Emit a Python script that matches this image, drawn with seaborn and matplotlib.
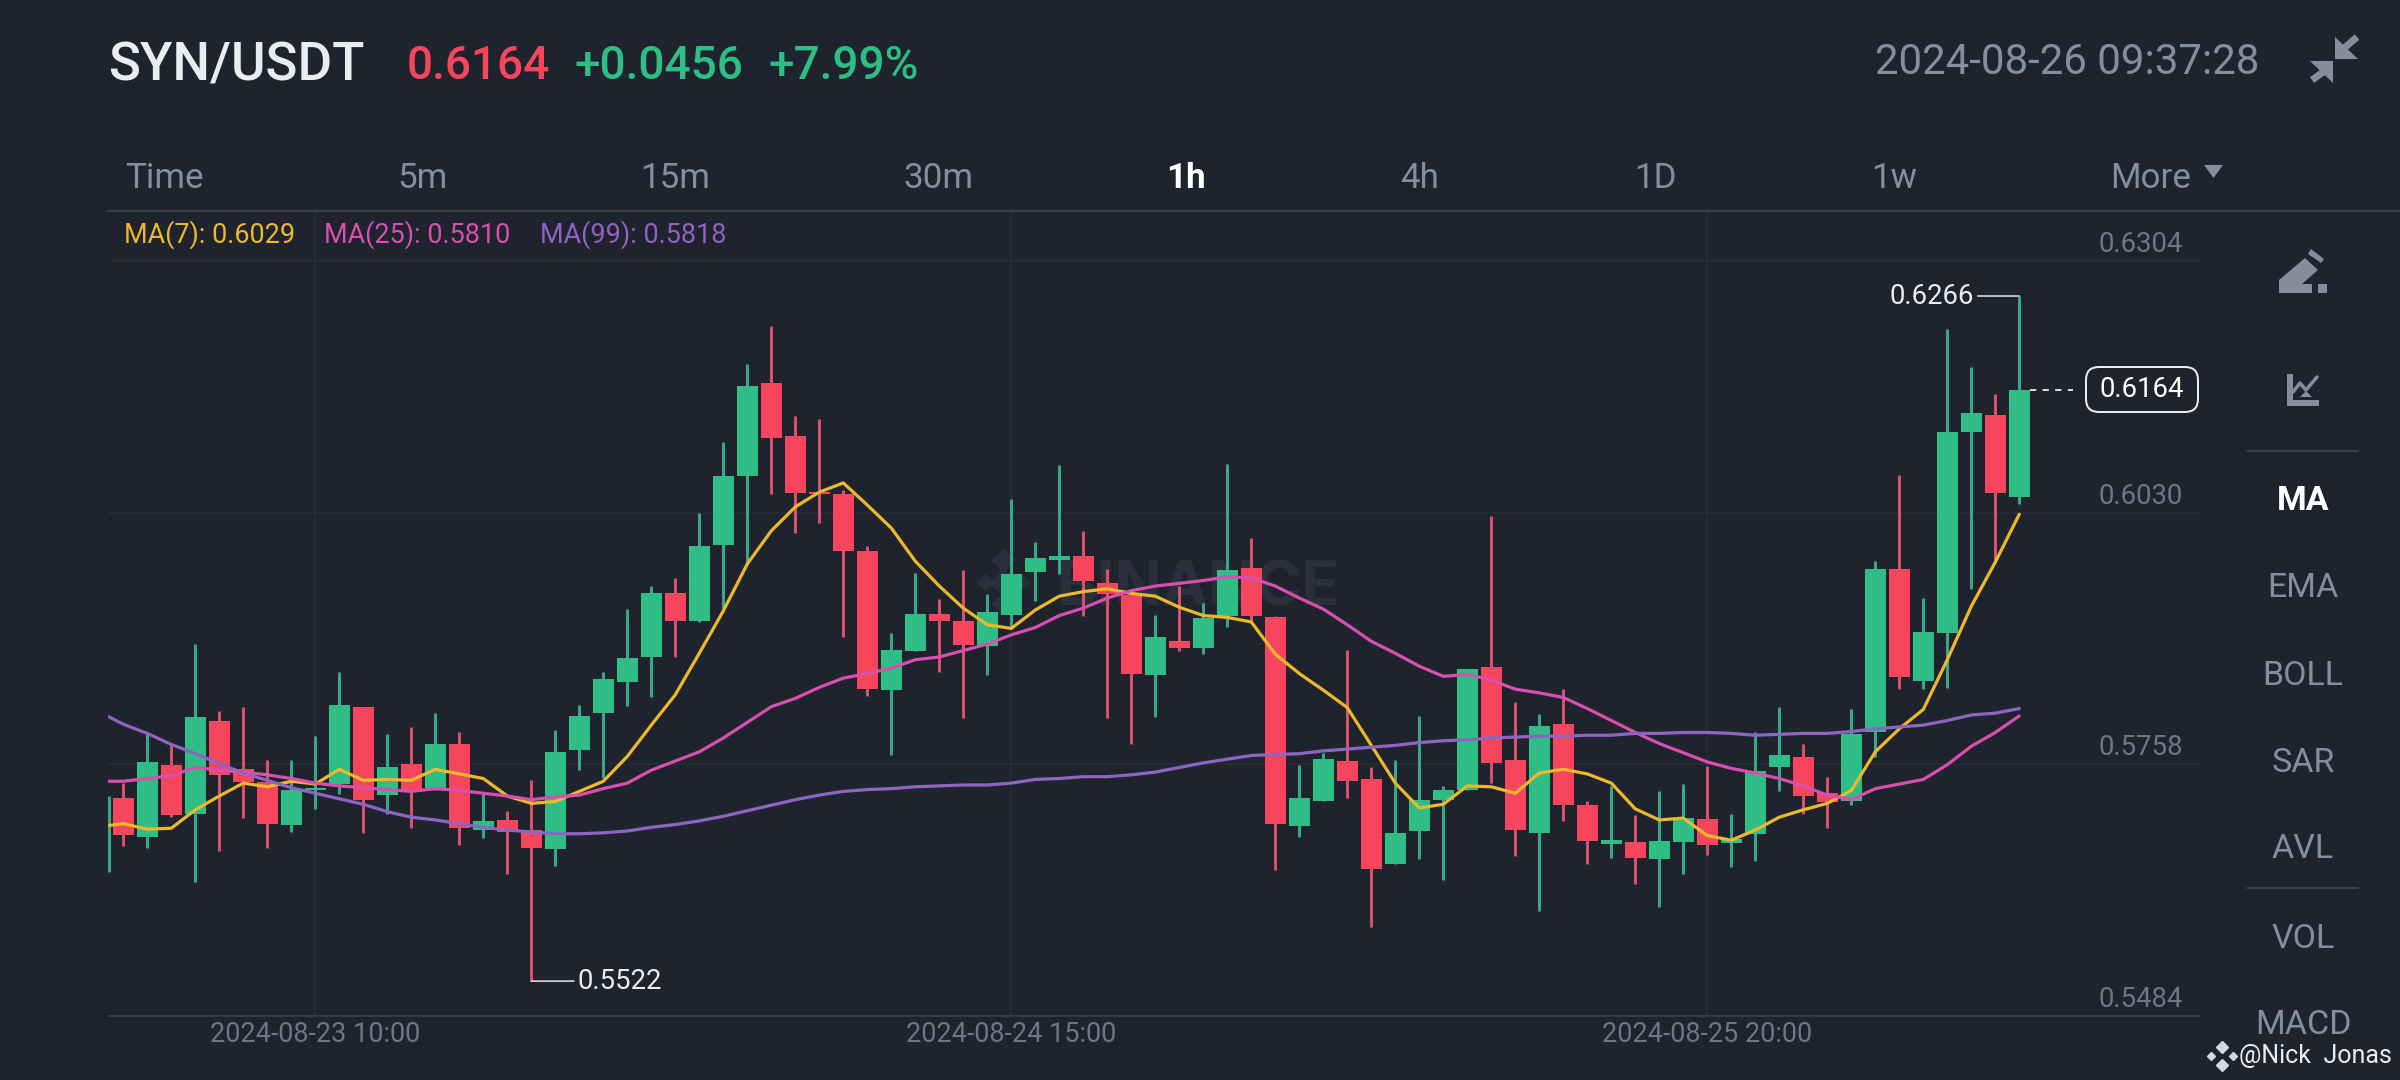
import numpy as np
import pandas as pd
import matplotlib.pyplot as plt
import seaborn as sns
from matplotlib.patches import FancyBboxPatch, Polygon, Rectangle
from matplotlib.transforms import ScaledTranslation

# hourly candles, index 8 is 2024-08-23 10:00
open_px = [0.5721, 0.5678, 0.5757, 0.5703, 0.5805, 0.5752, 0.5738, 0.5692, 0.5729, 0.5736,
           0.5820, 0.5724, 0.5758, 0.5732, 0.5779, 0.5686, 0.5697, 0.5686, 0.5665, 0.5773,
           0.5813, 0.5847, 0.5874, 0.5943, 0.5913, 0.5996, 0.6070, 0.6171, 0.6114, 0.6053,
           0.6051, 0.5989, 0.5838, 0.5880, 0.5921, 0.5913, 0.5886, 0.5920, 0.5966, 0.5979,
           0.5984, 0.5954, 0.5941, 0.5854, 0.5891, 0.5884, 0.5919, 0.5971, 0.5917, 0.5690,
           0.5718, 0.5761, 0.5741, 0.5649, 0.5685, 0.5719, 0.5730, 0.5863, 0.5762, 0.5683,
           0.5801, 0.5713, 0.5671, 0.5673, 0.5655, 0.5673, 0.5698, 0.5672, 0.5682, 0.5755,
           0.5765, 0.5726, 0.5718, 0.5792, 0.5970, 0.5848, 0.5900, 0.6118, 0.6137, 0.6048]
close_px = [0.5681, 0.5760, 0.5702, 0.5809, 0.5746, 0.5738, 0.5693, 0.5729, 0.5732, 0.5822,
            0.5719, 0.5755, 0.5730, 0.5779, 0.5688, 0.5696, 0.5684, 0.5667, 0.5771, 0.5810,
            0.5850, 0.5873, 0.5943, 0.5913, 0.5995, 0.6070, 0.6168, 0.6112, 0.6052, 0.6051,
            0.5989, 0.5839, 0.5882, 0.5921, 0.5913, 0.5887, 0.5923, 0.5964, 0.5981, 0.5984,
            0.5957, 0.5942, 0.5856, 0.5896, 0.5884, 0.5916, 0.5968, 0.5919, 0.5693, 0.5721,
            0.5763, 0.5739, 0.5644, 0.5683, 0.5719, 0.5729, 0.5861, 0.5759, 0.5686, 0.5799,
            0.5713, 0.5674, 0.5675, 0.5656, 0.5674, 0.5699, 0.5670, 0.5676, 0.5750, 0.5768,
            0.5723, 0.5716, 0.5790, 0.5970, 0.5852, 0.5901, 0.6118, 0.6139, 0.6052, 0.6164]
high_px = [0.5737, 0.5791, 0.5781, 0.5888, 0.5815, 0.5820, 0.5762, 0.5762, 0.5788, 0.5858,
           0.5820, 0.5790, 0.5798, 0.5813, 0.5792, 0.5727, 0.5707, 0.5740, 0.5795, 0.5822,
           0.5858, 0.5926, 0.5951, 0.5960, 0.6030, 0.6108, 0.6192, 0.6233, 0.6136, 0.6132,
           0.6055, 0.5994, 0.5900, 0.5965, 0.5937, 0.5968, 0.5942, 0.6046, 0.5999, 0.6082,
           0.6011, 0.5969, 0.5946, 0.5920, 0.5951, 0.5933, 0.6084, 0.6003, 0.5918, 0.5757,
           0.5770, 0.5882, 0.5755, 0.5762, 0.5810, 0.5734, 0.5861, 0.6027, 0.5825, 0.5812,
           0.5839, 0.5718, 0.5734, 0.5702, 0.5728, 0.5736, 0.5756, 0.5704, 0.5793, 0.5820,
           0.5779, 0.5744, 0.5817, 0.5978, 0.6072, 0.5938, 0.6230, 0.6189, 0.6160, 0.6266]
low_px = [0.5669, 0.5667, 0.5700, 0.5630, 0.5663, 0.5699, 0.5667, 0.5684, 0.5709, 0.5725,
          0.5683, 0.5703, 0.5688, 0.5730, 0.5670, 0.5677, 0.5638, 0.5522, 0.5647, 0.5751,
          0.5743, 0.5821, 0.5830, 0.5874, 0.5912, 0.5927, 0.5975, 0.6051, 0.6009, 0.6020,
          0.5896, 0.5832, 0.5767, 0.5880, 0.5858, 0.5808, 0.5854, 0.5904, 0.5935, 0.5964,
          0.5918, 0.5808, 0.5779, 0.5809, 0.5880, 0.5877, 0.5907, 0.5912, 0.5643, 0.5678,
          0.5718, 0.5721, 0.5581, 0.5649, 0.5655, 0.5632, 0.5730, 0.5737, 0.5658, 0.5598,
          0.5696, 0.5649, 0.5656, 0.5627, 0.5603, 0.5638, 0.5659, 0.5646, 0.5652, 0.5728,
          0.5704, 0.5688, 0.5713, 0.5765, 0.5839, 0.5839, 0.5840, 0.5948, 0.5977, 0.6040]

# the candle cut off by the left edge only shows its wick
cut_high = 0.5723
cut_low = 0.5640

# moving averages, first value belongs to the cut off candle
ma7 = [0.5691, 0.5693, 0.5687, 0.5688, 0.5708, 0.5723, 0.5737, 0.5733, 0.5739, 0.5736, 0.5752,
       0.5740, 0.5741, 0.5740, 0.5752, 0.5747, 0.5742, 0.5723, 0.5715, 0.5717, 0.5728,
       0.5739, 0.5766, 0.5800, 0.5833, 0.5878, 0.5924, 0.5975, 0.6011, 0.6037, 0.6053,
       0.6063, 0.6039, 0.6014, 0.5978, 0.5951, 0.5927, 0.5909, 0.5905, 0.5925, 0.5940,
       0.5945, 0.5948, 0.5943, 0.5940, 0.5928, 0.5919, 0.5917, 0.5912, 0.5877, 0.5856,
       0.5838, 0.5819, 0.5778, 0.5737, 0.5710, 0.5714, 0.5734, 0.5733, 0.5726, 0.5748,
       0.5752, 0.5747, 0.5737, 0.5709, 0.5697, 0.5699, 0.5680, 0.5675, 0.5686, 0.5700,
       0.5708, 0.5715, 0.5729, 0.5771, 0.5796, 0.5817, 0.5871, 0.5929, 0.5977, 0.6029]
ma25 = [0.5739, 0.5739, 0.5742, 0.5745, 0.5754, 0.5751, 0.5749, 0.5746, 0.5742, 0.5737, 0.5734,
        0.5732, 0.5730, 0.5728, 0.5731, 0.5729, 0.5726, 0.5723, 0.5719, 0.5722, 0.5724,
        0.5731, 0.5737, 0.5751, 0.5761, 0.5771, 0.5786, 0.5803, 0.5820, 0.5829, 0.5841,
        0.5851, 0.5856, 0.5862, 0.5871, 0.5874, 0.5881, 0.5888, 0.5898, 0.5906, 0.5919,
        0.5927, 0.5938, 0.5946, 0.5951, 0.5954, 0.5957, 0.5961, 0.5960, 0.5951, 0.5938,
        0.5926, 0.5909, 0.5891, 0.5878, 0.5864, 0.5853, 0.5855, 0.5849, 0.5839, 0.5835,
        0.5830, 0.5818, 0.5805, 0.5792, 0.5780, 0.5770, 0.5760, 0.5753, 0.5748, 0.5742,
        0.5734, 0.5724, 0.5719, 0.5731, 0.5736, 0.5741, 0.5757, 0.5777, 0.5792, 0.5810]
ma99 = [0.5809, 0.5801, 0.5791, 0.5779, 0.5769, 0.5758, 0.5748, 0.5740, 0.5732, 0.5726, 0.5720,
        0.5714, 0.5706, 0.5700, 0.5697, 0.5693, 0.5689, 0.5686, 0.5684, 0.5682, 0.5682,
        0.5683, 0.5685, 0.5689, 0.5692, 0.5696, 0.5701, 0.5707, 0.5713, 0.5719, 0.5724,
        0.5728, 0.5730, 0.5731, 0.5733, 0.5734, 0.5735, 0.5735, 0.5737, 0.5741, 0.5742,
        0.5744, 0.5744, 0.5746, 0.5749, 0.5754, 0.5759, 0.5763, 0.5767, 0.5768, 0.5769,
        0.5772, 0.5774, 0.5776, 0.5778, 0.5781, 0.5783, 0.5784, 0.5786, 0.5787, 0.5788,
        0.5788, 0.5789, 0.5789, 0.5791, 0.5791, 0.5792, 0.5792, 0.5791, 0.5789, 0.5790,
        0.5791, 0.5791, 0.5793, 0.5796, 0.5798, 0.5800, 0.5805, 0.5811, 0.5813, 0.5818]

price_ticks = [0.6304, 0.6030, 0.5758, 0.5484]
time_tick_idx = [8, 37, 66]
time_tick_labels = ["2024-08-23 10:00", "2024-08-24 15:00", "2024-08-25 20:00"]
tabs = ["Time", "5m", "15m", "30m", "1h", "4h", "1D", "1w", "More"]
side_items = ["MA", "EMA", "BOLL", "SAR", "AVL", "VOL", "MACD"]

BG = "#1e232d"
GREEN = "#2ebd85"
RED = "#f6465d"
GREY = "#848e9c"
DIM = "#6f7785"
WHITE = "#eaecef"
LINE = "#3a404b"
GRID = "#282e38"
MA_COLORS = {"MA(7)": "#ecb92c", "MA(25)": "#d94fb0", "MA(99)": "#8f63c2"}
PT = 0.72  # one output pixel in points at dpi 100

sns.set_theme(style="dark", rc={"axes.facecolor": BG, "figure.facecolor": BG})
plt.rcParams["font.family"] = ["Roboto", "DejaVu Sans"]

fig = plt.figure(figsize=(24, 10.8), dpi=100)
# x: one hour is 24 px, candle 0 sits at px 123.3. y: 9208 px per price unit
ax = fig.add_axes([108 / 2400, 1 - 1017 / 1080, (2200 - 108) / 2400, (1017 - 212) / 1080])
ax.set_xlim((108 - 123.3) / 24, (2200 - 123.3) / 24)
ax.set_ylim(0.5483, 0.5483 + 805 / 9208)

ui = fig.add_axes([0, 0, 1, 1], zorder=5)
ui.set_xlim(0, 2400)
ui.set_ylim(1080, 0)
ui.axis("off")
ui.patch.set_alpha(0)

hours = np.arange(len(open_px))
opens = np.array(open_px)
closes = np.array(close_px)
up = closes >= opens

# candles
wick_colors = np.where(up, "#3aa888", "#d9526b")
ax.vlines(hours, low_px, high_px, colors=wick_colors, linewidth=3 * PT, zorder=2)
ax.vlines(-0.6, cut_low, cut_high, colors="#3aa888", linewidth=3 * PT, zorder=2)
ax.bar(hours, np.abs(closes - opens), bottom=np.minimum(opens, closes), width=0.875,
       color=np.where(up, GREEN, RED), linewidth=0, zorder=3)

# moving averages
ma_hours = np.concatenate([[-0.6], hours])
ma_df = pd.DataFrame({"hour": ma_hours, "MA(7)": ma7, "MA(25)": ma25, "MA(99)": ma99})
ma_long = ma_df.melt(id_vars="hour", var_name="ma", value_name="price")
sns.lineplot(data=ma_long, x="hour", y="price", hue="ma", palette=MA_COLORS, legend=False,
             linewidth=3.2 * PT, errorbar=None, ax=ax, zorder=4)

# axes
ax.set_xlabel("")
ax.set_ylabel("")
for s in ax.spines.values():
    s.set_visible(False)
ax.set_xticks(hours[time_tick_idx])
ax.set_xticklabels(time_tick_labels)
ax.set_yticks(price_ticks)
ax.set_yticklabels([f"{v:.4f}" for v in price_ticks])
ax.yaxis.tick_right()
ax.grid(True, color=GRID, linewidth=1.5 * PT, zorder=0)
ax.tick_params(axis="x", length=0, pad=4 * PT, labelsize=27 * PT, labelcolor=DIM)
ax.tick_params(axis="y", length=0, pad=-17 * PT, labelsize=27.5 * PT, labelcolor=DIM)
shift = ScaledTranslation(0, 3 / 100, fig.dpi_scale_trans)
for lab in ax.get_yticklabels():
    lab.set_ha("right")
    lab.set_va("bottom")
    lab.set_transform(lab.get_transform() + shift)
ax.axhline(price_ticks[-1], color=LINE, linewidth=1.5 * PT, zorder=1)

# high, low and last price notes
hi = int(np.argmax(high_px))
lo = int(np.argmin(low_px))
leader = dict(arrowstyle="-", color=WHITE, linewidth=1.5 * PT, shrinkA=0, shrinkB=0)
ax.annotate(f"{high_px[hi]:.4f}", xy=(hours[hi], high_px[hi]), xytext=(-45 * PT, 0),
            textcoords="offset points", ha="right", va="center", color=WHITE,
            fontsize=27.5 * PT, arrowprops=leader, zorder=6)
ax.annotate(f"{low_px[lo]:.4f}", xy=(hours[lo], low_px[lo]), xytext=(46 * PT, 0),
            textcoords="offset points", ha="left", va="center", color=WHITE,
            fontsize=27.5 * PT, arrowprops=leader, zorder=6)
ax.hlines(close_px[-1], hours[-1] + 0.45, hours[-1] + 2.25, colors=WHITE, linewidth=1.8 * PT,
          linestyles=(0, (3.5, 3.5)), zorder=4)
ui.add_patch(FancyBboxPatch((2086, 367), 112, 45, boxstyle="round,pad=0,rounding_size=13",
                            fc=BG, ec=WHITE, lw=2 * PT))
ax.text(hours[-1] + 5.12, close_px[-1], f"{close_px[-1]:.4f}", ha="center", va="center",
        color="white", fontsize=27.5 * PT, zorder=6)
ax.set_zorder(6)
ax.patch.set_alpha(0)
fig.patch.set_facecolor(BG)

# watermark under the candles
wm = "#2a303b"
ax.text(1057, 590, "BINANCE", transform=ui.transData, ha="left", va="center", color=wm,
        fontsize=62 * PT, fontweight="bold", family="Inter", zorder=1)
for mx, my, ms in [(1003, 582, 20), (985, 582, 11), (1021, 582, 11), (1003, 560, 15), (1003, 604, 15)]:
    ax.plot([mx], [my], marker="D", color=wm, markersize=ms * PT, transform=ui.transData,
            linewidth=0, zorder=1)

# header
ui.text(108, 66, "SYN/USDT", color=WHITE, fontsize=53 * PT, va="center", ha="left", fontweight="medium")
ui.text(407, 66, "0.6164", color=RED, fontsize=46 * PT, va="center", ha="left", fontweight="medium")
ui.text(575, 66, "+0.0456", color=GREEN, fontsize=46 * PT, va="center", ha="left", fontweight="medium")
ui.text(768, 66, "+7.99%", color=GREEN, fontsize=46 * PT, va="center", ha="left", fontweight="medium")
ui.text(2259, 63, "2024-08-26 09:37:28", color=GREY, fontsize=42 * PT, va="center", ha="right")

# compress icon
for tri, tail in [([(2335, 37), (2335, 59), (2358, 59)], ([2342, 2357], [50, 37])),
                  ([(2310, 61), (2333, 61), (2333, 83)], ([2326, 2312], [70, 80]))]:
    ui.add_patch(Polygon(tri, closed=True, fc=GREY, ec="none"))
    ui.plot(tail[0], tail[1], color=GREY, linewidth=7 * PT, solid_capstyle="butt")

# period tabs
tab_x = [164, 422, 675, 938, 1186, 1420, 1655, 1894, 2151]
for name, tx in zip(tabs, tab_x):
    on = name == "1h"
    ui.text(tx, 179, name, color="white" if on else GREY, fontsize=35 * PT, ha="center", va="center",
            fontweight="bold" if on else "normal")
ui.add_patch(Polygon([(2204, 165), (2223, 165), (2213.5, 178)], closed=True, fc=GREY, ec="none"))
ui.plot([108, 2400], [211, 211], color=LINE, linewidth=2 * PT)

# MA readout
for name, vals, tx in zip(MA_COLORS, [ma7, ma25, ma99], [124, 324, 540]):
    ui.text(tx, 235, f"{name}: {vals[-1]:.4f}", color=MA_COLORS[name], fontsize=27 * PT,
            ha="left", va="center")

# side panel
side_y = [501, 588, 676, 763, 849, 939, 1025]
for name, sy in zip(side_items, side_y):
    on = name == "MA"
    ui.text(2303, sy, name, color="white" if on else GREY, fontsize=34 * PT, ha="center", va="center",
            fontweight="bold" if on else "normal")
ui.plot([2247, 2358], [451, 451], color=LINE, linewidth=2 * PT)
ui.plot([2247, 2358], [888, 888], color=LINE, linewidth=2 * PT)

# pencil icon
ui.add_patch(Polygon([(2279, 293), (2279, 280), (2305, 258), (2318, 270), (2302, 284), (2312, 284), (2312, 293)],
                     closed=True, fc=GREY, ec="none"))
ui.add_patch(Polygon([(2311, 249), (2324, 259), (2321, 263), (2308, 254)], closed=True, fc=GREY, ec="none"))
ui.add_patch(Rectangle((2318, 284), 9, 9, fc=GREY, ec="none"))

# chart icon
ui.add_patch(Rectangle((2287, 374), 6, 32, fc=GREY, ec="none"))
ui.add_patch(Rectangle((2287, 400), 32, 6, fc=GREY, ec="none"))
ui.plot([2293, 2300, 2306, 2317], [392, 383, 390, 377], color=GREY, linewidth=3.5 * PT)
ui.add_patch(Polygon([(2300, 397), (2312, 397), (2306, 391)], closed=True, fc=GREY, ec="none"))

# author tag
ui.text(2392, 1056, "@Nick  Jonas", color=WHITE, fontsize=25 * PT, ha="right", va="center")
for dx, dy, ms in [(2222, 1047, 8), (2222, 1065, 8), (2211, 1056, 6), (2233, 1056, 6)]:
    ui.plot([dx], [dy], marker="D", color="#d5d8dc", markersize=ms * PT, linewidth=0)

fig.savefig("out.png", dpi=100, facecolor=BG)
